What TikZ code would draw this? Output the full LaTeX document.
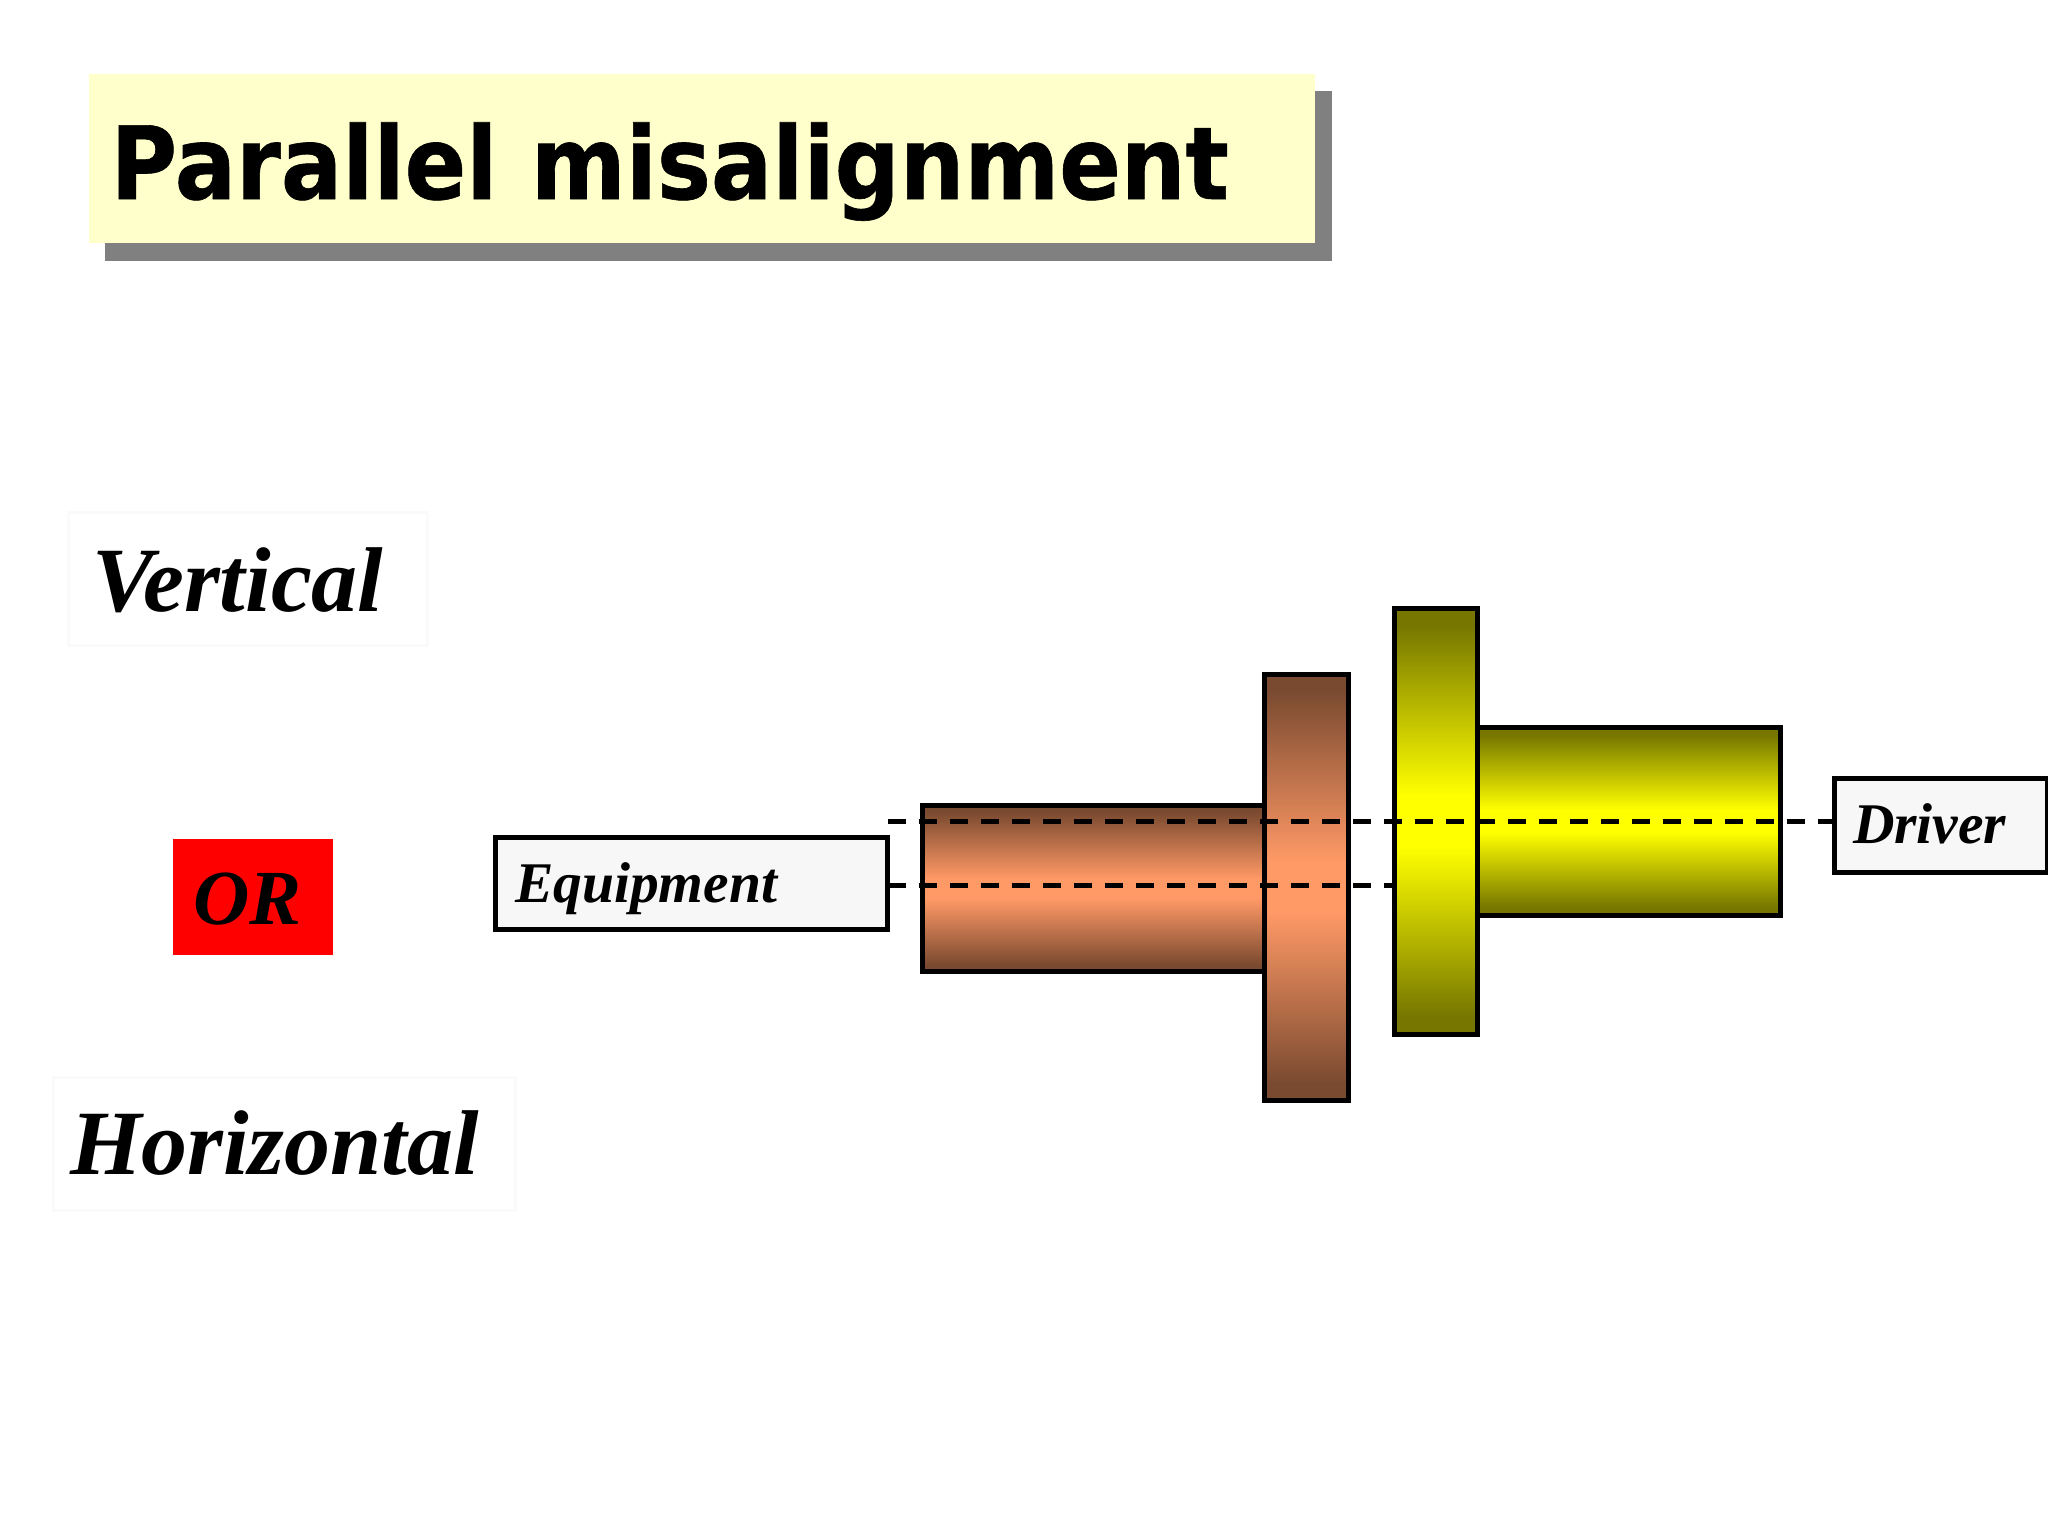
\documentclass[tikz,border=0pt]{standalone}
\usepackage{fontspec}
\setmainfont{Liberation Serif}
\newfontfamily\titlefont[FakeStretch=0.9,FakeBold=0.6]{DejaVu Sans}
\usepackage{tikz}
\usetikzlibrary{positioning}
\definecolor{brown_dark}{HTML}{7A4A30}
\definecolor{brown_light}{HTML}{FF9966}
\definecolor{olive_dark}{HTML}{767600}
\definecolor{panel_yellow}{HTML}{FFFFCC}
\definecolor{panel_shadow}{HTML}{808080}
\definecolor{panel_grey}{HTML}{F7F7F7}
\definecolor{panel_faint}{HTML}{FAFAFA}
\pgfdeclareverticalshading{shadebrown}{100bp}{color(0bp)=(brown_dark); color(27bp)=(brown_dark); color(47bp)=(brown_light); color(53bp)=(brown_light); color(73bp)=(brown_dark); color(100bp)=(brown_dark)}
\pgfdeclareverticalshading{shadeyellow}{100bp}{color(0bp)=(olive_dark); color(27bp)=(olive_dark); color(47bp)=(yellow); color(53bp)=(yellow); color(73bp)=(olive_dark); color(100bp)=(olive_dark)}
\tikzstyle{part_brown} = [rectangle, draw, line width=5pt, inner sep=0pt, shade, shading=shadebrown]
\tikzstyle{part_yellow} = [rectangle, draw, line width=5pt, inner sep=0pt, shade, shading=shadeyellow]
\tikzstyle{text_big} = [rectangle, draw=panel_faint, line width=3pt, fill=white, inner xsep=0pt, inner ysep=0pt, align=left, font=\fontsize{92}{100}\selectfont\bfseries\itshape]
\tikzstyle{text_small} = [rectangle, draw, line width=5pt, fill=panel_grey, inner xsep=0pt, inner ysep=0pt, align=left, font=\fontsize{57.5}{62}\selectfont\bfseries\itshape]
\tikzstyle{edge_center} = [line width=5pt, dash pattern=on 18pt off 13pt]

\begin{document}
\begin{tikzpicture}[x=1pt,y=-1pt]
		\useasboundingbox (0,0) rectangle (2048,1536);
		\node (title_shadow) at (718.5,176) [fill=panel_shadow, minimum width=1227, minimum height=170] {};
		\node (title) at (702,158.5) [fill=panel_yellow, inner sep=0pt, minimum width=1226, minimum height=169, text width=1183, text height=89, text depth=8, align=left, font=\fontsize{101}{110}\selectfont\titlefont\bfseries] {Parallel misalignment};
		
		\node (vertical) at (248,579) [text_big, minimum width=359, minimum height=133, text width=312, text height=70, text depth=6] {Vertical};
		\node (or_box) at (253,897) [fill=red, inner sep=0pt, minimum width=160, minimum height=116, text width=120, text height=58, text depth=4, align=left, font=\fontsize{78}{82}\selectfont\bfseries\itshape] {OR};
		\node (horizontal) at (284,1143.5) [text_big, minimum width=462, minimum height=133, text width=428, text height=67, text depth=6] {Horizontal};
		
		\node (equipment) at (691,883) [text_small, minimum width=392, minimum height=92, text width=352, text height=45, text depth=7] {Equipment};
		\node (driver) at (1940.5,825) [text_small, minimum width=213, minimum height=94, text width=175, text height=42, text depth=6] {Driver};
		
		\node (shaft_brown) at (1093,888.5) [part_brown, minimum width=342, minimum height=166] {};
		\node (flange_brown) at (1306,887) [part_brown, minimum width=84, minimum height=426] {};
		\node (shaft_yellow) at (1628.5,821) [part_yellow, minimum width=303, minimum height=188] {};
		\node (flange_yellow) at (1435.5,821) [part_yellow, minimum width=83, minimum height=426] {};
		
		\coordinate (upper) at (888,821);
		\coordinate (lower) at (888,885);
		\draw[edge_center] (upper)--(upper -| driver.west);
		\draw[edge_center] (lower)--(lower -| flange_yellow.west);
		\end{tikzpicture}
\end{document}
